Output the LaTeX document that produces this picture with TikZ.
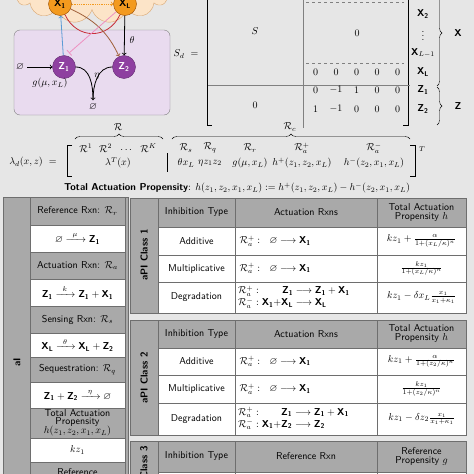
\documentclass[tikz,border=0pt]{standalone}
\usepackage{amsmath}
\usepackage{amssymb}
\usepackage[usenames,dvipsnames]{xcolor}
\usepackage{tikz}
\usetikzlibrary{shapes.symbols,decorations.pathreplacing}

\definecolor{bggray}{HTML}{E6E6E6}
\definecolor{hdrgray}{HTML}{A9A9A9}
\definecolor{rulegray}{HTML}{6E6E6E}
\definecolor{xorange}{HTML}{F39A1E}
\definecolor{zpurple}{HTML}{8E3FA0}
\definecolor{boxpurple}{HTML}{E9DBEF}
\definecolor{cloudfill}{HTML}{FCE4C8}
\definecolor{cloudedge}{HTML}{D9A670}
\definecolor{actblue}{HTML}{5B9BD5}
\definecolor{sensepink}{HTML}{EE8FC0}
\definecolor{degred}{HTML}{C8303A}
\definecolor{degbrown}{HTML}{A0603A}

\newcommand{\Sp}[2]{\textsf{\textbf{#1}}_{\textsf{\textbf{#2}}}}
\newcommand{\rxnto}[1]{\xrightarrow{\;\;#1\;\;}}

\tikzset{
  xsp/.style={circle, fill=xorange, draw=orange!60!black, inner sep=0pt, minimum size=23pt},
  zsp/.style={circle, fill=zpurple, draw=zpurple!70!black, text=white, inner sep=0pt, minimum size=23pt},
  cellbase/.style={draw=rulegray, inner sep=1pt, outer sep=0pt, anchor=north west, align=center, font=\sffamily},
  hcell/.style={cellbase, fill=hdrgray},
  wcell/.style={cellbase, fill=white},
  rowh/.style={minimum height=#1},
  aIcol/.style={minimum width=95pt},
  typecol/.style={minimum width=77pt},
  rxncol/.style={minimum width=142pt},
  propcol/.style={minimum width=89pt},
  curly/.style={decorate, decoration={brace, amplitude=5pt}},
  panel/.style={fill=hdrgray, draw=rulegray},
  classlab/.style={rotate=90, font=\sffamily\bfseries}
}

\begin{document}
\begin{tikzpicture}[x=1pt,y=-1pt]
            \path[use as bounding box, fill=bggray] (0,0) rectangle (474,474);
            %
            % network
            \node[cloud, cloud puffs=13, cloud ignores aspect, minimum width=152pt, minimum height=58pt,
                  fill=cloudfill, draw=cloudedge] (pool) at (92,-6) {};
            \draw[fill=boxpurple, draw=gray, rounded corners=6pt] (14,30) rectangle (170,115);

            \node[xsp] (X1) at (60,4) {$\Sp{X}{1}$};
            \node[xsp] (XL) at (125,4) {$\Sp{X}{L}$};
            \node[zsp] (Z1) at (64,67) {$\Sp{Z}{1}$};
            \node[zsp] (Z2) at (124,67) {$\Sp{Z}{2}$};
            \node (src) at (20,67) {$\varnothing$};
            \node (snk) at (93,107) {$\varnothing$};
            \node (glab) at (50,83) {$g(\mu,x_L)$};
            \node (etalab) at (97,76) {$\eta$};
            \node (thetalab) at (132,40) {$\theta$};
            \coordinate (inh) at (69,53);

            \draw[xorange, densely dotted, thick, ->] (X1) -- (XL);
            \draw[degred, thick] (X1) to[out=-65, in=-115, looseness=1.3] (XL);
            \draw[degbrown, thick, ->] (X1) to[out=-25, in=115] (Z2);
            \draw[sensepink, thick, -|] (XL) -- (inh);
            \draw[actblue, thick, ->] (Z1) -- (X1);
            \draw[thick, ->] (XL) -- (Z2);
            \draw[thick, ->] (src) -- (Z1);
            \draw[thick, ->] (Z1) to[out=0, in=90] (snk.north);
            \draw[thick] (Z2) to[out=180, in=90] (snk.north);
            %
            % stoichiometry matrix
            \node (Sd) at (186,54) {$S_d\ =$};
            \draw[-] (212,-5) -- (207,-5) -- (207,125) -- (212,125);
            \draw[-] (403,-5) -- (408,-5) -- (408,125) -- (403,125);
            \draw[gray] (303,-5) -- (303,128);
            \draw[gray] (208,85) -- (410,85);
            \draw[gray, dashed] (306,2) -- (404,2);
            \draw[gray, dashed] (306,63) -- (404,63);
            \node (Sblk) at (255,31) {$S$};
            \node (zblkA) at (255,105) {$0$};
            \node (zblkB) at (357,33) {$0$};
            \foreach \v [count=\c] in {0,0,0,0,0}
                \node (rL\c) at (295+20.5*\c,72) {$\v$};
            \foreach \v [count=\c] in {0,-1,1,0,0}
                \node (rA\c) at (295+20.5*\c,90) {$\v$};
            \foreach \v [count=\c] in {1,-1,0,0,0}
                \node (rB\c) at (295+20.5*\c,109) {$\v$};

            \node (lX2) at (423,14) {$\Sp{X}{2}$};
            \node (ldots) at (423,33) {$\vdots$};
            \node (lXL1) at (423,53) {$\textsf{\textbf{X}}_{L-1}$};
            \node (lXL) at (423,72) {$\Sp{X}{L}$};
            \node (lZ1) at (423,90) {$\Sp{Z}{1}$};
            \node (lZ2) at (423,109) {$\Sp{Z}{2}$};
            \draw[curly] (437,-20) -- (437,86);
            \draw[curly] (437,87) -- (437,125);
            \node (bX) at (458,33) {\sffamily\bfseries X};
            \node (bZ) at (458,106) {\sffamily\bfseries Z};
            %
            % propensity vector
            \draw[curly] (75,139) -- (163,139);
            \node (Rlab) at (118,127) {$\mathcal{R}$};
            \draw[curly] (172,139) -- (410,139);
            \node (Rclab) at (290,127) {$\mathcal{R}_c$};
            \node (lam) at (33,162) {$\lambda_d(x,z)\ =$};
            \draw[-] (72,145) -- (67,145) -- (67,176) -- (72,176);
            \draw[-] (410,145) -- (415,145) -- (415,176) -- (410,176);
            \node (tlab) at (422,149) {\scriptsize$T$};
            \draw[-] (167,153) -- (167,172);
            \node (rk) at (118,148) {$\mathcal{R}^1\ \ \mathcal{R}^2\ \ \cdots\ \ \mathcal{R}^K$};
            \node (lamx) at (118,163) {$\lambda^T(x)$};
            \node (rs) at (186,148) {$\mathcal{R}_s$};
            \node (ps) at (186,163) {$\theta x_L$};
            \node (rq) at (210,148) {$\mathcal{R}_q$};
            \node (pq) at (210,163) {$\eta z_1z_2$};
            \node (rr) at (250,148) {$\mathcal{R}_r$};
            \node (pr) at (250,163) {$g(\mu,x_L)$};
            \node (rap) at (302,148) {$\mathcal{R}_a^+$};
            \node (pap) at (302,163) {$h^+(z_1,z_2,x_L)$};
            \node (ram) at (374,148) {$\mathcal{R}_a^-$};
            \node (pam) at (374,163) {$h^-(z_2,x_1,x_L)$};

            \node (tap) at (237,188) {\textsf{\textbf{Total Actuation Propensity}}: $h(z_1,z_2,x_1,x_L) := h^+(z_1,z_2,x_L) - h^-(z_2,x_1,x_L)$};
            %
            % aI panel
            \draw[panel] (3,197) rectangle (128,500);
            \node[classlab] (aIlab) at (17,362) {aI};
            \node[hcell, aIcol, rowh=28pt] (aI1) at (30,197) {Reference Rxn: $\mathcal{R}_r$};
            \node[wcell, aIcol, rowh=27pt] (aI2) at (30,225) {$\varnothing \rxnto{\mu} \Sp{Z}{1}$};
            \node[hcell, aIcol, rowh=27pt] (aI3) at (30,252) {Actuation Rxn: $\mathcal{R}_a$};
            \node[wcell, aIcol, rowh=27pt] (aI4) at (30,279) {$\Sp{Z}{1} \rxnto{k} \Sp{Z}{1} + \Sp{X}{1}$};
            \node[hcell, aIcol, rowh=27pt] (aI5) at (30,306) {Sensing Rxn: $\mathcal{R}_s$};
            \node[wcell, aIcol, rowh=24pt] (aI6) at (30,333) {$\Sp{X}{L} \rxnto{\theta} \Sp{X}{L} + \Sp{Z}{2}$};
            \node[hcell, aIcol, rowh=25pt] (aI7) at (30,357) {Sequestration: $\mathcal{R}_q$};
            \node[wcell, aIcol, rowh=26pt] (aI8) at (30,382) {$\Sp{Z}{1} + \Sp{Z}{2} \rxnto{\eta} \varnothing$};
            \node[hcell, aIcol, rowh=30pt, inner sep=0pt] (aI9) at (30,408) {Total Actuation\\[-4pt]Propensity\\[-3pt]$h(z_1,z_2,x_1,x_L)$};
            \node[wcell, aIcol, rowh=24pt] (aI10) at (30,438) {$kz_1$};
            \node[hcell, aIcol, rowh=30pt] (aI11) at (30,462) {Reference\\[-3pt]Propensity};
            %
            % aPI class 1
            \draw[panel] (130,198) rectangle (466,313);
            \node[classlab] (c1lab) at (144,255) {aPI Class 1};
            \node[hcell, typecol, rowh=29pt] (c1h1) at (158,198) {Inhibition Type};
            \node[hcell, rxncol, rowh=29pt] (c1h2) at (235,198) {Actuation Rxns};
            \node[hcell, propcol, rowh=29pt] (c1h3) at (377,198) {Total Actuation\\[-3pt]Propensity $h$};
            \node[wcell, typecol, rowh=28pt] (c1a1) at (158,227) {Additive};
            \node[wcell, rxncol, rowh=28pt] (c1a2) at (235,227) {};
            \node[wcell, propcol, rowh=28pt] (c1a3) at (377,227) {$kz_1+\frac{\alpha}{1+(x_L/\kappa)^n}$};
            \node[wcell, typecol, rowh=27pt] (c1m1) at (158,255) {Multiplicative};
            \node[wcell, rxncol, rowh=27pt] (c1m2) at (235,255) {};
            \node[wcell, propcol, rowh=27pt] (c1m3) at (377,255) {$\frac{kz_1}{1+(x_L/\kappa)^n}$};
            \node[wcell, typecol, rowh=31pt] (c1d1) at (158,282) {Degradation};
            \node[wcell, rxncol, rowh=31pt] (c1d2) at (235,282) {};
            \node[wcell, propcol, rowh=31pt] (c1d3) at (377,282) {$kz_1-\delta x_L\frac{x_1}{x_1+\kappa_1}$};
            \node[anchor=west] (c1ra) at (236,241) {$\mathcal{R}_a^+:\ \ \varnothing\longrightarrow\Sp{X}{1}$};
            \node[anchor=west] (c1rm) at (236,268.5) {$\mathcal{R}_a^+:\ \ \varnothing\longrightarrow\Sp{X}{1}$};
            \node[anchor=west, inner sep=2pt] (c1rd) at (236,297.5) {$\begin{array}{@{}l@{\;}r@{\;}c@{\;}l@{}}
                \mathcal{R}_a^+: & \Sp{Z}{1} & \longrightarrow & \Sp{Z}{1}+\Sp{X}{1}\\
                \mathcal{R}_a^-: & \Sp{X}{1}{+}\Sp{X}{L} & \longrightarrow & \Sp{X}{L}\end{array}$};
            %
            % aPI class 2
            \draw[panel] (130,320) rectangle (466,435);
            \node[classlab] (c2lab) at (144,378) {aPI Class 2};
            \node[hcell, typecol, rowh=28pt] (c2h1) at (158,320) {Inhibition Type};
            \node[hcell, rxncol, rowh=28pt] (c2h2) at (235,320) {Actuation Rxns};
            \node[hcell, propcol, rowh=28pt] (c2h3) at (377,320) {Total Actuation\\[-3pt]Propensity $h$};
            \node[wcell, typecol, rowh=27pt] (c2a1) at (158,348) {Additive};
            \node[wcell, rxncol, rowh=27pt] (c2a2) at (235,348) {};
            \node[wcell, propcol, rowh=27pt] (c2a3) at (377,348) {$kz_1+\frac{\alpha}{1+(z_2/\kappa)^n}$};
            \node[wcell, typecol, rowh=28pt] (c2m1) at (158,375) {Multiplicative};
            \node[wcell, rxncol, rowh=28pt] (c2m2) at (235,375) {};
            \node[wcell, propcol, rowh=28pt] (c2m3) at (377,375) {$\frac{kz_1}{1+(z_2/\kappa)^n}$};
            \node[wcell, typecol, rowh=32pt] (c2d1) at (158,403) {Degradation};
            \node[wcell, rxncol, rowh=32pt] (c2d2) at (235,403) {};
            \node[wcell, propcol, rowh=32pt] (c2d3) at (377,403) {$kz_1-\delta z_2\frac{x_1}{x_1+\kappa_1}$};
            \node[anchor=west] (c2ra) at (236,361.5) {$\mathcal{R}_a^+:\ \ \varnothing\longrightarrow\Sp{X}{1}$};
            \node[anchor=west] (c2rm) at (236,389) {$\mathcal{R}_a^+:\ \ \varnothing\longrightarrow\Sp{X}{1}$};
            \node[anchor=west, inner sep=2pt] (c2rd) at (236,419) {$\begin{array}{@{}l@{\;}r@{\;}c@{\;}l@{}}
                \mathcal{R}_a^+: & \Sp{Z}{1} & \longrightarrow & \Sp{Z}{1}+\Sp{X}{1}\\
                \mathcal{R}_a^-: & \Sp{X}{1}{+}\Sp{Z}{2} & \longrightarrow & \Sp{Z}{2}\end{array}$};
            %
            % aPI class 3
            \draw[panel] (130,441) rectangle (466,520);
            \node[classlab] (c3lab) at (144,472) {aPI Class 3};
            \node[hcell, typecol, rowh=31pt] (c3h1) at (158,441) {Inhibition Type};
            \node[hcell, rxncol, rowh=31pt] (c3h2) at (235,441) {Reference Rxn};
            \node[hcell, propcol, rowh=31pt] (c3h3) at (377,441) {Reference\\[-3pt]Propensity $g$};
            \node[wcell, typecol, rowh=30pt] (c3r1) at (158,472) {};
            \node[wcell, rxncol, rowh=30pt] (c3r2) at (235,472) {};
            \node[wcell, propcol, rowh=30pt] (c3r3) at (377,472) {};
        \end{tikzpicture}
\end{document}
